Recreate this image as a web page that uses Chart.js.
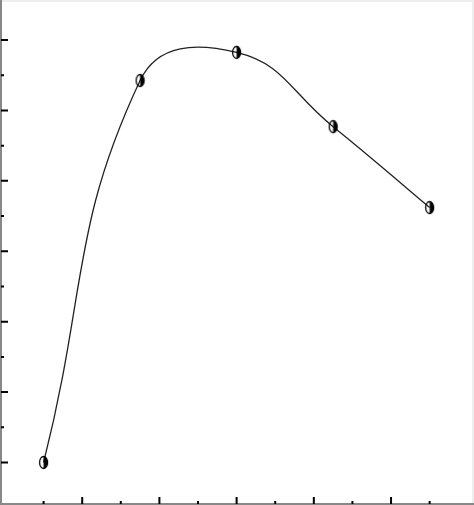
<!DOCTYPE html>
<html><head><script src="https://cdn.jsdelivr.net/npm/chart.js@4"></script>
<style>html,body{margin:0;padding:0;background:#fff}#w{width:474px;height:505px}</style></head>
<body><div id="w"><canvas id="c"></canvas></div>
<script>
const xValues=[0,2.5,5,7.5,10];
const yValues=[0,10.85,11.65,9.54,7.24];
const xTicks=[0,1,2,3,4,5,6,7,8,9,10];
const yTicks=[0,1,2,3,4,5,6,7,8,9,10,11,12];

const m=document.createElement('canvas');m.width=11;m.height=15;
{const g=m.getContext('2d');g.lineWidth=1.3;g.strokeStyle='#000';g.fillStyle='#000';
g.beginPath();g.ellipse(5.5,7.5,4,6,0,-Math.PI/2,Math.PI/2);g.closePath();g.fill();
g.beginPath();g.ellipse(5.5,7.5,4,6,0,0,Math.PI*2);g.stroke();}

const frame={id:'frame',afterDraw(ch){const c=ch.ctx,a=ch.chartArea,xs=ch.scales.x,ys=ch.scales.y;c.save();
c.lineWidth=2;c.strokeStyle='#eee';c.beginPath();c.moveTo(0,1);c.lineTo(474,1);c.moveTo(473,0);c.lineTo(473,505);c.stroke();
c.strokeStyle='#888';c.beginPath();c.moveTo(1,0);c.lineTo(1,505);c.moveTo(0,504);c.lineTo(474,504);c.stroke();
c.strokeStyle='#000';c.lineWidth=2;c.beginPath();
xTicks.forEach(t=>{const p=xs.getPixelForValue(t);c.moveTo(p,504);c.lineTo(p,t%2?497:501);});
yTicks.forEach(t=>{const p=ys.getPixelForValue(t);c.moveTo(1,p);c.lineTo(t%2?4:8,p);});
c.stroke();c.restore();}};

new Chart(document.getElementById('c'),{type:'line',
data:{datasets:[{data:xValues.map((x,i)=>({x,y:yValues[i]})),borderColor:'#222',borderWidth:1.3,tension:0.45,
pointStyle:m,pointRadius:6,fill:false}]},
options:{responsive:true,maintainAspectRatio:false,animation:false,
layout:{padding:{left:2,top:1,right:2,bottom:2}},
plugins:{legend:{display:false},tooltip:{enabled:false}},
scales:{x:{type:'linear',min:-0.94,max:10.96,display:false},y:{min:-1.0,max:12.93,display:false}}},
plugins:[frame]});
</script></body></html>
